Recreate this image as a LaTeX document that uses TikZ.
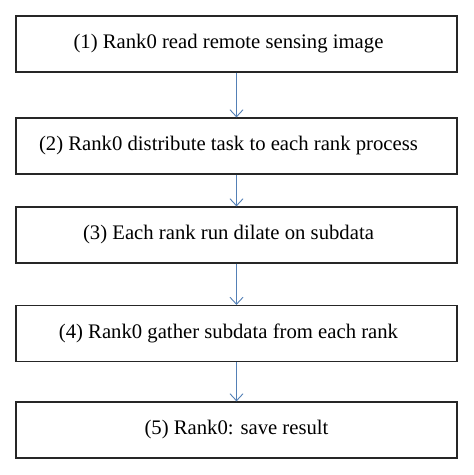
\documentclass[tikz,border=0pt]{standalone}
\usepackage{fontspec}
\setmainfont{Liberation Serif}
\usetikzlibrary{arrows.meta}
\definecolor{arrowblue}{RGB}{84,128,182}

\begin{document}
\begin{tikzpicture}[x=1pt,y=-1pt,
    stepbox/.style={draw=black!85,line width=1.2pt,minimum width=441pt,minimum height=56pt,inner sep=0pt,font=\fontsize{20.7}{24}\selectfont},
    offleft/.style={execute at begin node=\hspace*{-16pt}},
    flow/.style={draw=arrowblue,line width=0.9pt,-{Straight Barb[length=7pt,width=13pt]}}]
  \useasboundingbox (0,0) rectangle (474,475);
  % Define the steps of the procedure
  \node[stepbox,offleft] (S1) at (236.5,44) {(1) Rank0 read remote sensing image};
  \node[stepbox,offleft] (S2) at (236.5,146) {(2) Rank0 distribute task to each rank process};
  \node[stepbox,offleft] (S3) at (236.5,235) {(3) Each rank run dilate on subdata};
  \node[stepbox,offleft] (S4) at (236.5,333.5) {(4) Rank0 gather subdata from each rank};
  \node[stepbox] (S5) at (236.5,430) {(5) Rank0: save result};

  % Draw the arrows between the steps
  \draw[flow] (S1) -- (S2);
  \draw[flow] (S2) -- (S3);
  \draw[flow] (S3) -- (S4);
  \draw[flow] (S4) -- (S5);
\end{tikzpicture}
\end{document}
